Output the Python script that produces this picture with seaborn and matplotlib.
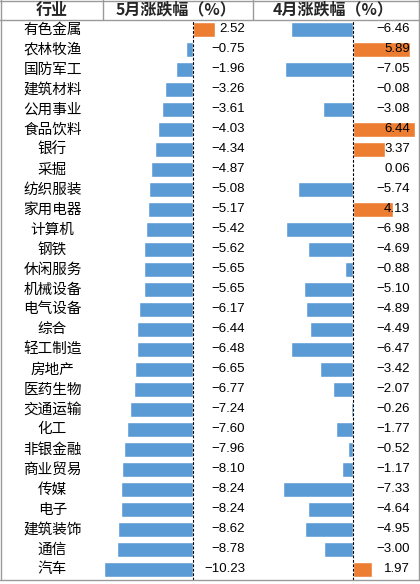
import pandas as pd
import matplotlib.pyplot as plt
import matplotlib.transforms as mtransforms
from matplotlib.lines import Line2D
import seaborn as sns

industries = ['有色金属', '农林牧渔', '国防军工', '建筑材料', '公用事业', '食品饮料', '银行',
              '采掘', '纺织服装', '家用电器', '计算机', '钢铁', '休闲服务', '机械设备',
              '电气设备', '综合', '轻工制造', '房地产', '医药生物', '交通运输', '化工',
              '非银金融', '商业贸易', '传媒', '电子', '建筑装饰', '通信', '汽车']
may_chg = [2.52, -0.75, -1.96, -3.26, -3.61, -4.03, -4.34, -4.87, -5.08, -5.17, -5.42, -5.62,
           -5.65, -5.65, -6.17, -6.44, -6.48, -6.65, -6.77, -7.24, -7.60, -7.96, -8.10, -8.24,
           -8.24, -8.62, -8.78, -10.23]
apr_chg = [-6.46, 5.89, -7.05, -0.08, -3.08, 6.44, 3.37, 0.06, -5.74, 4.13, -6.98, -4.69,
           -0.88, -5.10, -4.89, -4.49, -6.47, -3.42, -2.07, -0.26, -1.77, -0.52, -1.17, -7.33,
           -4.64, -4.95, -3.00, 1.97]
headers = ['行业', '5月涨跌幅（%）', '4月涨跌幅（%）']

sns.set_theme(style="white")
plt.rcParams['font.family'] = ['Noto Sans CJK SC', 'DejaVu Sans']
plt.rcParams['axes.unicode_minus'] = True

BLUE = '#5B9BD5'
ORANGE = '#ED7D31'
GRID = '#9a9a9a'

W, H = 420, 584
fig = plt.figure(figsize=(W / 100, H / 100), dpi=100)
fig.patch.set_facecolor('white')

row_top, row_bot = 19.5, 579.5
bottom = (H - row_bot) / H
height = (row_bot - row_top) / H
n = len(industries)


def px(x):
    return x / W


df = pd.DataFrame({'industry': industries, 'may': may_chg, 'apr': apr_chg})

# industry name column
ax_lab = fig.add_axes([0, bottom, px(103), height])
ax_lab.set_xlim(0, 1)
ax_lab.set_ylim(n - 0.5, -0.5)
for i, name in enumerate(industries):
    ax_lab.text(0.51, i, name, ha='center', va='center', fontsize=10.5, color='black')
ax_lab.axis('off')


def bar_column(left, right, xlim, col, label_x):
    ax = fig.add_axes([px(left), bottom, px(right - left), height])
    d = df.copy()
    d['sign'] = ['pos' if v > 0 else 'neg' for v in d[col]]
    sns.barplot(data=d, y='industry', x=col, hue='sign', orient='h', dodge=False,
                palette={'pos': ORANGE, 'neg': BLUE}, width=0.75, legend=False,
                saturation=1, ax=ax, order=industries)
    ax.set_xlim(*xlim)
    ax.set_ylim(n - 0.5, -0.5)
    ax.axvline(0, color='black', lw=0.8, ls=(0, (2.5, 1.5)))
    tr = mtransforms.blended_transform_factory(ax.transAxes, ax.transData)
    for i, v in enumerate(d[col]):
        ax.text(label_x, i, f"{v:.2f}".replace('-', '\u2212'), transform=tr,
                ha='right', va='center', fontsize=9.5, color='black',
                family=['Liberation Sans', 'DejaVu Sans'])
    ax.axis('off')
    return ax


bar_column(103, 253, (-10.34, 6.9), 'may', 0.947)
bar_column(253, 420, (-10.42, 6.98), 'apr', 0.94)

# header
hy = 1 - 9.5 / H
fig.text(px(52), hy, headers[0], ha='center', va='center', fontsize=11.5, fontweight='bold')
fig.text(px(176), hy, headers[1], ha='center', va='center', fontsize=11.5, fontweight='bold')
fig.text(px(333), hy, headers[2], ha='center', va='center', fontsize=11.5, fontweight='bold')

# table lines
yl = 1 - row_top / H
yb = 1 - row_bot / H
lines = [
    ([0, 1], [yl, yl]),
    ([0, 1], [1 - 0.5 / H, 1 - 0.5 / H]),
    ([0, 1], [yb, yb]),
    ([px(1), px(1)], [yb, 1]),
    ([px(419), px(419)], [yb, 1]),
    ([px(103), px(103)], [yl, 1]),
    ([px(253), px(253)], [yl, 1]),
]
for xs, ys in lines:
    fig.add_artist(Line2D(xs, ys, color=GRID, lw=1))

fig.savefig('out.png', dpi=100)
